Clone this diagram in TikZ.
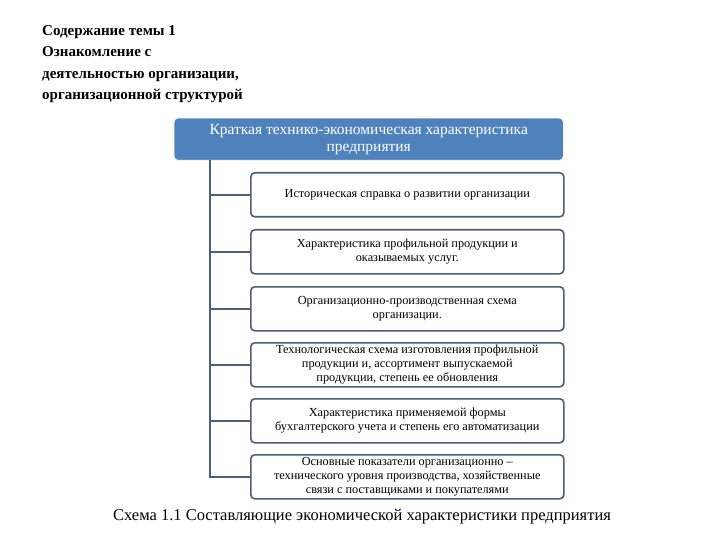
\documentclass[tikz,border=0pt]{standalone}
\usepackage{fontspec}
\setmainfont{Liberation Serif}
\definecolor{topblue}{HTML}{4F81BD}
\definecolor{edge}{HTML}{4A5F78}
\begin{document}
\begin{tikzpicture}[x=1pt,y=-1pt,
  kid/.style={draw=edge,line width=1.6pt,fill=white,rounded corners=4pt,minimum width=313pt,minimum height=44pt,anchor=north west,align=center,font=\fontsize{12.3}{14}\selectfont,inner sep=1pt},
  top/.style={fill=topblue,draw=white,rounded corners=4pt,minimum width=389pt,minimum height=42pt,anchor=north west,align=center,text=white,font=\fontsize{15.5}{17}\selectfont},
  conn/.style={draw=edge,line width=1.6pt}]
\useasboundingbox (0,0) rectangle (720,540);
\fill[white] (0,0) rectangle (720,540);
\node[anchor=north west,align=left,font=\bfseries\fontsize{15}{21.5}\selectfont,inner sep=0] (title) at (42,25) {Содержание темы 1\\Ознакомление с\\деятельностью организации,\\организационной структурой};
\node[top] (t) at (174,118) {Краткая технико-экономическая характеристика\\предприятия};
\node[kid] (k1) at (250,172) {Историческая справка о развитии организации};
\node[kid] (k2) at (250,229) {Характеристика профильной продукции и\\оказываемых услуг.};
\node[kid] (k3) at (250,286) {Организационно-производственная схема\\организации.};
\node[kid] (k4) at (250,342) {Технологическая схема изготовления профильной\\продукции и, ассортимент выпускаемой\\продукции, степень ее обновления};
\node[kid] (k5) at (250,398) {Характеристика применяемой формы\\бухгалтерского учета и степень его автоматизации};
\node[kid] (k6) at (250,454) {Основные показатели организационно –\\технического уровня производства, хозяйственные\\связи с поставщиками и покупателями};
\coordinate (s) at (210,160);
\draw[conn] (s) |- (k6.west);
\foreach \k in {k1,k2,k3,k4,k5} \draw[conn] (s |- \k.west) -- (\k.west);
\node[font=\fontsize{16.5}{18}\selectfont] (cap) at (362,517) {Схема 1.1 Составляющие экономической характеристики предприятия};
\end{tikzpicture}
\end{document}
